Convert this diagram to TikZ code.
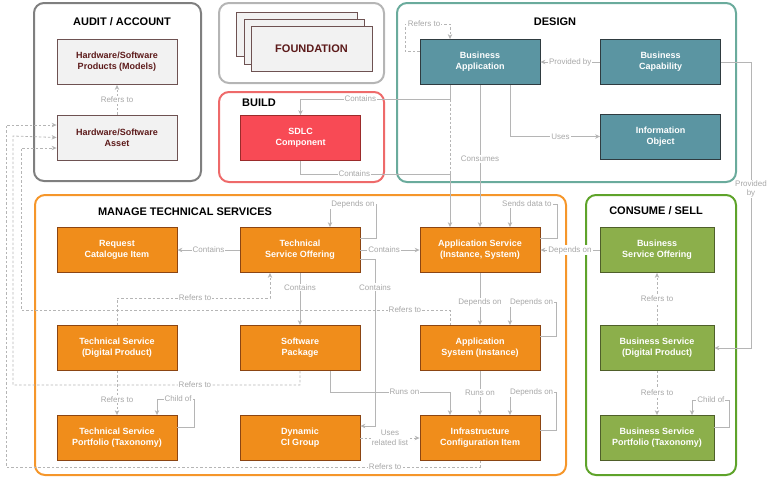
\documentclass[tikz,border=0pt]{standalone}
\usepackage{fontspec}
\setmainfont{Liberation Sans}
\usetikzlibrary{arrows.meta}
\definecolor{auditfill}{HTML}{F2F2F2}
\definecolor{auditdraw}{HTML}{6E5252}
\definecolor{audittext}{HTML}{5C1A1A}
\definecolor{sdlcfill}{HTML}{F84A55}
\definecolor{sdlcdraw}{HTML}{9B2B2B}
\definecolor{desfill}{HTML}{5B95A2}
\definecolor{desdraw}{HTML}{2F3B40}
\definecolor{manfill}{HTML}{F08D1B}
\definecolor{mandraw}{HTML}{8B4513}
\definecolor{confill}{HTML}{8CAF4B}
\definecolor{condraw}{HTML}{4F5F2A}
\definecolor{grpaudit}{HTML}{7F7F7F}
\definecolor{grpfound}{HTML}{B5B5B5}
\definecolor{grpbuild}{HTML}{EE6A6A}
\definecolor{grpdesign}{HTML}{6AAB9C}
\definecolor{grpmanage}{HTML}{F5962A}
\definecolor{grpconsume}{HTML}{5EA32A}
\definecolor{linegray}{HTML}{B5B5B5}
\definecolor{lblgray}{HTML}{A8A8A8}
\begin{document}
\begin{tikzpicture}[x=1pt,y=-1pt,
  basebox/.style={minimum width=120pt, minimum height=45pt, inner sep=0pt, align=center,
    font=\bfseries\fontsize{9}{11.3}\selectfont, line width=0.8pt},
  abox/.style={basebox, fill=auditfill, draw=auditdraw, text=audittext},
  rbox/.style={basebox, fill=sdlcfill, draw=sdlcdraw, text=white},
  dbox/.style={basebox, fill=desfill, draw=desdraw, text=white},
  obox/.style={basebox, fill=manfill, draw=mandraw, text=white},
  gbox/.style={basebox, minimum width=114pt, fill=confill, draw=condraw, text=white},
  grp/.style={rounded corners=10pt, line width=2pt},
  ttl/.style={font=\bfseries\fontsize{11}{13}\selectfont, inner sep=0pt},
  lbl/.style={fill=white, inner sep=1pt, text=lblgray, font=\fontsize{8}{9.5}\selectfont, align=center},
  conn/.style={draw=linegray, line width=0.8pt, -{Stealth[length=5pt,width=4.5pt]}},
  dconn/.style={conn, dash pattern=on 2.5pt off 2pt},
  plain/.style={draw=linegray, line width=0.8pt, dash pattern=on 2.5pt off 2pt}
]
\useasboundingbox (0,0) rectangle (768,477);
% groups
\draw[grp, draw=grpaudit] (34,3) rectangle (201,181);
\draw[grp, draw=grpfound] (219,3) rectangle (384,83);
\draw[grp, draw=grpbuild] (219,92) rectangle (384,182);
\draw[grp, draw=grpdesign] (397,3) rectangle (736,182);
\draw[grp, draw=grpmanage] (35,195) rectangle (566,475);
\draw[grp, draw=grpconsume] (586,195) rectangle (736,475);
% titles
\node[ttl] (taudit) at (122,22) {AUDIT / ACCOUNT};
\node[ttl] (tbuild) at (259,103) {BUILD};
\node[ttl] (tdesign) at (555,22) {DESIGN};
\node[ttl] (tmanage) at (185,212) {MANAGE TECHNICAL SERVICES};
\node[ttl] (tconsume) at (656,211) {CONSUME / SELL};
% foundation stack
\draw[fill=auditfill, draw=auditdraw, line width=0.8pt] (236.5,12) rectangle (357,56.5);
\draw[fill=auditfill, draw=auditdraw, line width=0.8pt] (244,19) rectangle (364,64);
\node[abox, minimum width=121pt, minimum height=45.5pt, font=\bfseries\fontsize{11}{13}\selectfont] (found) at (311.5,48.75) {FOUNDATION};
% nodes
\node[abox] (prod) at (117,62) {Hardware/Software\\Products (Models)};
\node[abox] (asset) at (117,137.5) {Hardware/Software\\Asset};
\node[rbox] (sdlc) at (300.5,138) {SDLC\\Component};
\node[dbox] (ba) at (480,62) {Business\\Application};
\node[dbox] (bc) at (660.5,62) {Business\\Capability};
\node[dbox] (io) at (660.5,136.5) {Information\\Object};
\node[obox] (rci) at (117,250) {Request\\Catalogue Item};
\node[obox] (tso) at (300,250) {Technical\\Service Offering};
\node[obox] (as) at (480,250) {Application Service\\(Instance, System)};
\node[obox] (tsdp) at (117,348) {Technical Service\\(Digital Product)};
\node[obox] (sp) at (300,348) {Software\\Package};
\node[obox] (asys) at (480,348) {Application\\System (Instance)};
\node[obox] (tsp) at (117,438) {Technical Service\\Portfolio (Taxonomy)};
\node[obox] (dcg) at (300,438) {Dynamic\\CI Group};
\node[obox] (ici) at (480,438) {Infrastructure\\Configuration Item};
\node[gbox] (bso) at (657,250) {Business\\Service Offering};
\node[gbox] (bsdp) at (657,348) {Business Service\\(Digital Product)};
\node[gbox] (bsp) at (657,438) {Business Service\\Portfolio (Taxonomy)};
% audit
\draw[dconn] (asset.north) -- node[lbl]{Refers to} (prod.south);
% design
\draw[dconn] ([yshift=11pt]ba.west) -| (405,24) -- node[lbl]{Refers to} (443,24) -| ([xshift=-30pt]ba.north);
\draw[conn] (bc.west) -- node[lbl]{Provided by} (ba.east);
\draw[conn] ([xshift=30pt]ba.south) |- node[lbl,pos=0.78]{Uses} (io.west);
\draw[conn] ([xshift=-30pt]ba.south) -- (450,99) -| node[lbl,pos=0.3]{Contains} (sdlc.north);
\draw[plain] (450,99) -- (450,174);
\draw[conn] (sdlc.south) |- node[lbl,pos=0.68]{Contains} (450,174) -- ([xshift=-30pt]as.north);
\draw[conn] (ba.south) -- node[lbl,pos=0.52]{Consumes} (as.north);
\draw[conn] (bc.east) -| node[lbl,pos=0.722]{Provided\\by} (751,348) -- (bsdp.east);
% manage
\draw[conn] ([yshift=12pt]tso.east) -| (376,204) -- node[lbl]{Depends on} (330,204) -- ([xshift=30pt]tso.north);
\draw[conn] (tso.west) -- node[lbl]{Contains} (rci.east);
\draw[conn] (tso.east) -- node[lbl,pos=0.4]{Contains} (as.west);
\draw[conn] (tso.south) -- node[lbl,pos=0.28]{Contains} (sp.north);
\draw[conn] ([yshift=-9pt]tso.east) -- (375,259) -- node[lbl,pos=0.17]{Contains} (375,426) -- ([yshift=12pt]dcg.east);
\draw[conn] (bso.west) -- node[lbl]{Depends on} (as.east);
\draw[conn] ([yshift=12pt]as.east) -| (557,204) -- node[lbl,pos=0.64]{Sends data to} (510,204) -- ([xshift=30pt]as.north);
\draw[conn] (as.south) -- node[lbl,pos=0.57]{Depends on} (asys.north);
\draw[conn] ([yshift=12pt]asys.east) -| (556,302) -- node[lbl,pos=0.53]{Depends on} (510,302) -- ([xshift=30pt]asys.north);
\draw[conn] ([yshift=8pt]ici.east) -| (556,392) -- node[lbl,pos=0.53]{Depends on} (510,392) -- ([xshift=30pt]ici.north);
\draw[conn] ([xshift=30pt]sp.south) -- (330,392) -- node[lbl,pos=0.62]{Runs on} (450,392) -- ([xshift=-30pt]ici.north);
\draw[conn] (asys.south) -- node[lbl]{Runs on} (ici.north);
\draw[dconn] (dcg.east) -- node[lbl]{Uses\\related list} (ici.west);
\draw[dconn] (tsdp.north) -- (117,298) -- node[lbl,pos=0.51]{Refers to} (270,298) -- ([xshift=-30pt]tso.south);
\draw[dconn] (tsdp.south) -- node[lbl,pos=0.64]{Refers to} (tsp.north);
\draw[conn] ([yshift=11pt]tsp.east) -| (194,399) -- node[lbl,pos=0.43]{Child of} (157,399) -- ([xshift=40pt]tsp.north);
% consume
\draw[dconn] (bsdp.north) -- node[lbl]{Refers to} (bso.south);
\draw[dconn] (bsdp.south) -- node[lbl]{Refers to} (bsp.north);
\draw[conn] ([yshift=11pt]bsp.east) -| (729,400) -- node[lbl,pos=0.49]{Child of} (692,400) -- ([xshift=35pt]bsp.north);
% refers to asset
\draw[dconn] (ici.south) -- (480,467) -- node[lbl,pos=0.2]{Refers to} (6,467) -- (6,125) -- ([yshift=12.5pt]asset.west);
\draw[dconn] (sp.south) -- (300,385) -- node[lbl,pos=0.366]{Refers to} (13,385) -- (13,136) -- (asset.west);
\draw[dconn] ([xshift=-30pt]asys.north) -- (450,310) -- node[lbl,pos=0.105]{Refers to} (21,310) -- (21,148) -- ([yshift=-10.5pt]asset.west);
\end{tikzpicture}
\end{document}
